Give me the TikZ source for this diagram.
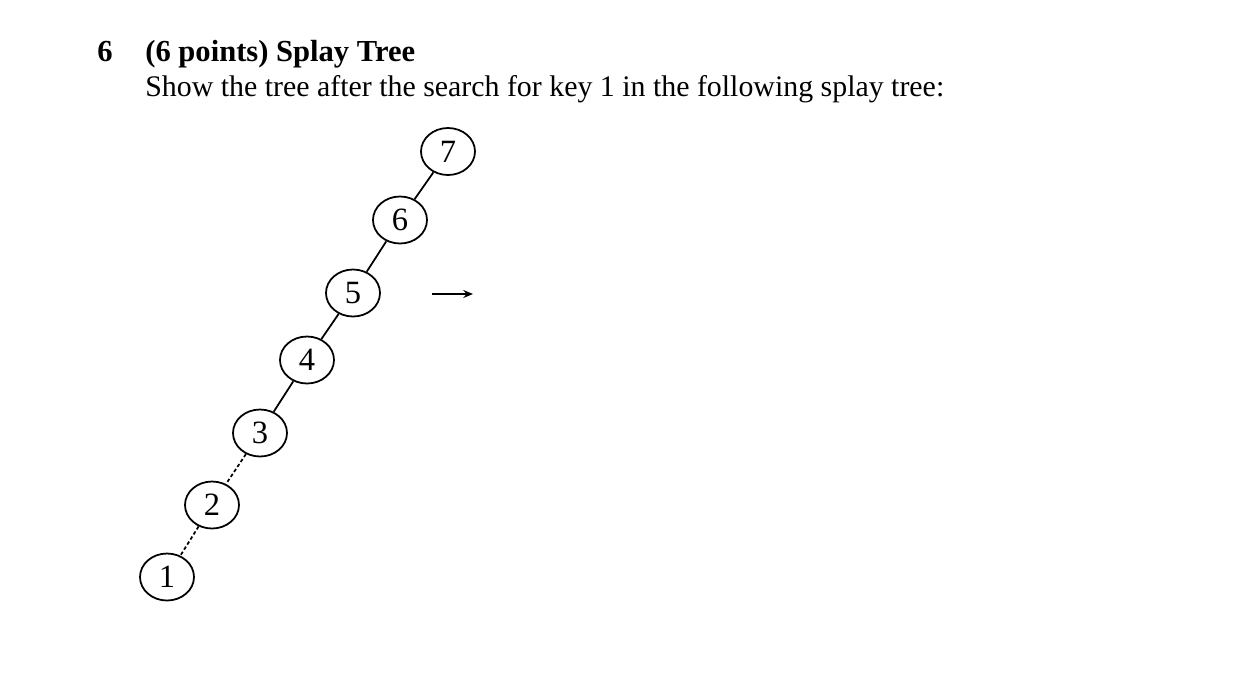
\documentclass[tikz,border=0pt]{standalone}
\usepackage{fontspec}
\setmainfont{Liberation Serif}
\usetikzlibrary{arrows.meta,shapes.geometric}
\tikzstyle{key} = [draw, ellipse, line width=1pt, minimum width=1.08cm, minimum height=0.94cm, inner sep=0pt, font=\fontsize{18.5}{22}\selectfont]
\tikzstyle{link} = [line width=1pt]
\tikzstyle{path} = [line width=1pt, dash pattern=on 2pt off 1.4pt]
\tikzstyle{txt} = [anchor=base west, inner sep=0pt, font=\fontsize{17}{20}\selectfont]

\begin{document}
\begin{tikzpicture}
	
	\useasboundingbox (0,0) rectangle (24.72,-13.56);
	\node [txt] (num) at (1.94,-1.22){\fontsize{17.4}{20}\selectfont\bfseries 6};
	\node [txt] (title) at (2.90,-1.22){\fontsize{17.4}{20}\selectfont\bfseries (6 points) Splay Tree};
	\node [txt] (task) at (2.90,-1.92){Show the tree after the search for key 1 in the following splay tree:};
	
	\node [key] (k7) at (8.96,-3.03){7};
	\node [key] (k6) at (8.00,-4.40){6};
	\node [key] (k5) at (7.06,-5.86){5};
	\node [key] (k4) at (6.14,-7.20){4};
	\node [key] (k3) at (5.20,-8.66){3};
	\node [key] (k2) at (4.24,-10.10){2};
	\node [key] (k1) at (3.34,-11.54){1};
	
	\draw [link] (k7) -- (k6);
	\draw [link] (k6) -- (k5);
	\draw [link] (k5) -- (k4);
	\draw [link] (k4) -- (k3);
	\draw [path] (k3) -- (k2);
	\draw [path] (k2) -- (k1);
	
	\coordinate (from) at (8.64,-5.88);
	\coordinate (to) at (9.46,-5.88);
	\draw [link, -{Stealth[length=5.5pt, width=4.5pt]}] (from) -- (to);
\end{tikzpicture}
\end{document}
